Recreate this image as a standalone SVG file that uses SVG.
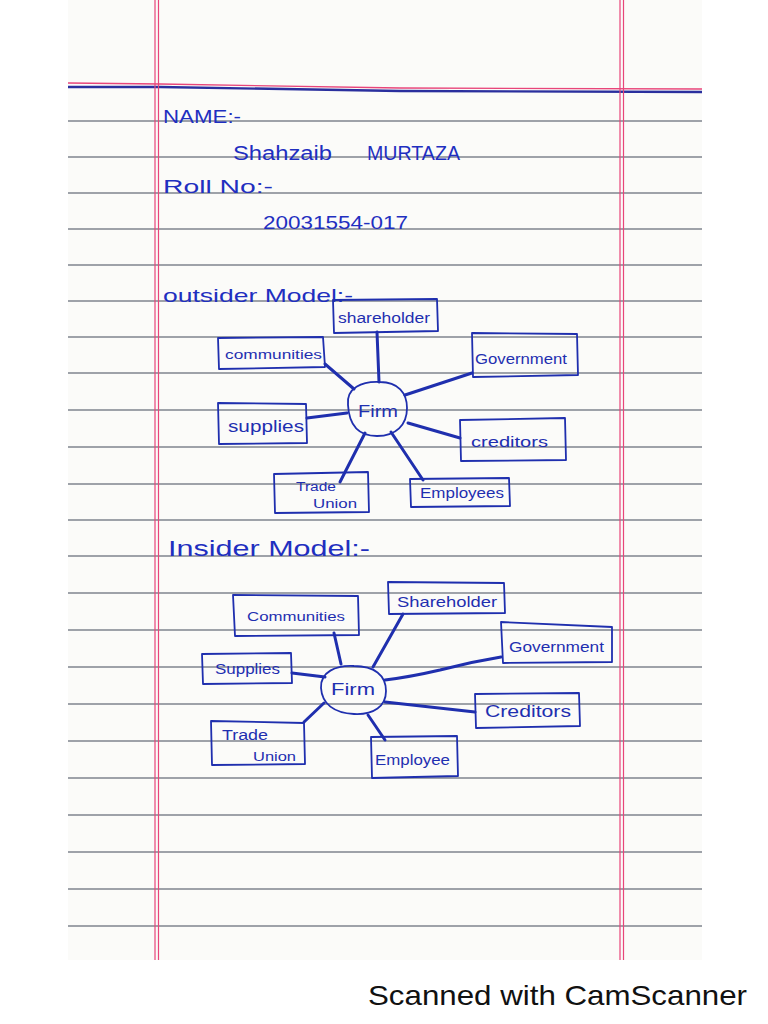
<svg xmlns="http://www.w3.org/2000/svg" width="768" height="1024" viewBox="0 0 768 1024">
<style>
.rule{stroke:#80858e;stroke-width:1.6;fill:none}
.margin{stroke:#e8457a;stroke-width:1.2;fill:none}
.box{fill:none;stroke:#1f2fae;stroke-width:1.8;stroke-linejoin:round}
.firm{fill:none;stroke:#1f2fae;stroke-width:1.8}
.conn{stroke:#1f2fae;stroke-width:3;stroke-linecap:round;fill:none}
.ink{font-family:"Liberation Sans","DejaVu Sans",sans-serif;fill:#1f2fc0}
.lbl{font-family:"Liberation Sans","DejaVu Sans",sans-serif;fill:#1f2fb0}
.cam{font-family:"Liberation Sans",Arial,sans-serif;fill:#111;font-size:28px}
</style>
<rect width="768" height="1024" fill="#ffffff"/>
<rect x="68" y="0" width="634" height="960" fill="#fbfbf9"/>
<g id="ruling">
<path class="rule" d="M68 121H702M68 157H702M68 193H702M68 229H702M68 265H702M68 301H702M68 337H702M68 373H702M68 410H702M68 447H702M68 484H702M68 520H702M68 556H702M68 593H702M68 630H702M68 667H702M68 704H702M68 741H702M68 778H702M68 815H702M68 852H702M68 889H702M68 926H702"/>
<path d="M68 83 L160 84 L400 88 L702 89" stroke="#e8457a" stroke-width="1.3" fill="none"/>
<path d="M68 87 L160 87 L400 91 L702 92" stroke="#2a2f9e" stroke-width="2.4" fill="none"/>
<path class="margin" d="M155 0V960M158.5 0V960M620 0V960M623.5 0V960"/>
</g>
<g id="header">
<text class="ink" x="163" y="123" font-size="18" textLength="78" lengthAdjust="spacingAndGlyphs">NAME:-</text>
<text class="ink" x="233" y="160" font-size="20" textLength="99" lengthAdjust="spacingAndGlyphs">Shahzaib</text>
<text class="ink" x="367" y="160" font-size="20" textLength="93" lengthAdjust="spacingAndGlyphs">MURTAZA</text>
<text class="ink" x="163" y="193" font-size="19" textLength="110" lengthAdjust="spacingAndGlyphs">Roll No:-</text>
<text class="ink" x="263" y="229" font-size="19" textLength="145" lengthAdjust="spacingAndGlyphs">20031554-017</text>
<text class="ink" x="163" y="302" font-size="19" textLength="190" lengthAdjust="spacingAndGlyphs">outsider Model:-</text>
<text class="ink" x="168" y="556" font-size="22" textLength="202" lengthAdjust="spacingAndGlyphs">Insider Model:-</text>
</g>
<g id="outsider-connectors">
<path class="conn" d="M377 332 L379 382"/>
<path class="conn" d="M325 364 L354 389"/>
<path class="conn" d="M472 373 L405 395"/>
<path class="conn" d="M307 418 L347 413"/>
<path class="conn" d="M460 438 L408 423"/>
<path class="conn" d="M340 482 L365 433"/>
<path class="conn" d="M423 480 L391 432"/>
</g>
<g id="o-firm"><path class="firm" d="M348 405 C346 388 362 381 380 382 C398 382 407 393 407 408 C407 425 396 436 377 436 C358 436 349 424 348 405 Z"/><text class="lbl" x="358" y="417" font-size="16" textLength="40" lengthAdjust="spacingAndGlyphs">Firm</text></g>
<g id="o-shareholder"><path class="box" d="M333 300 L437 299 L438 331 L334 333 Z"/><text class="lbl" x="338" y="323" font-size="14" textLength="92" lengthAdjust="spacingAndGlyphs">shareholder</text></g>
<g id="o-communities"><path class="box" d="M218 338 L323 337 L325 367 L219 369 Z"/><text class="lbl" x="225" y="359" font-size="13" textLength="97" lengthAdjust="spacingAndGlyphs">communities</text></g>
<g id="o-government"><path class="box" d="M472 333 L577 334 L578 375 L473 377 Z"/><text class="lbl" x="475" y="364" font-size="14" textLength="92" lengthAdjust="spacingAndGlyphs">Government</text></g>
<g id="o-supplies"><path class="box" d="M218 403 L306 404 L307 443 L219 444 Z"/><text class="lbl" x="228" y="432" font-size="16" textLength="76" lengthAdjust="spacingAndGlyphs">supplies</text></g>
<g id="o-creditors"><path class="box" d="M460 420 L565 418 L566 460 L461 461 Z"/><text class="lbl" x="471" y="447" font-size="15" textLength="77" lengthAdjust="spacingAndGlyphs">creditors</text></g>
<g id="o-tradeunion"><path class="box" d="M274 474 L368 472 L369 512 L275 513 Z"/><text class="lbl" x="296" y="491" font-size="12" textLength="40" lengthAdjust="spacingAndGlyphs">Trade</text><text class="lbl" x="313" y="508" font-size="13" textLength="44" lengthAdjust="spacingAndGlyphs">Union</text></g>
<g id="o-employees"><path class="box" d="M410 479 L509 478 L510 506 L411 507 Z"/><text class="lbl" x="420" y="498" font-size="14" textLength="84" lengthAdjust="spacingAndGlyphs">Employees</text></g>
<g id="insider-connectors">
<path class="conn" d="M334 633 L341 664"/>
<path class="conn" d="M403 614 L373 667"/>
<path class="conn" d="M501 657 Q470 662 440 670 Q410 677 385 680"/>
<path class="conn" d="M292 673 L325 677"/>
<path class="conn" d="M475 712 L385 702"/>
<path class="conn" d="M304 722 L324 703"/>
<path class="conn" d="M385 740 L368 715"/>
</g>
<g id="i-firm"><path class="firm" d="M321 688 C320 672 336 665 354 666 C374 666 386 675 386 691 C386 706 374 715 354 714 C334 713 322 704 321 688 Z"/><text class="lbl" x="331" y="695" font-size="17" textLength="44" lengthAdjust="spacingAndGlyphs">Firm</text></g>
<g id="i-communities"><path class="box" d="M233 595 L358 596 L359 635 L235 636 Z"/><text class="lbl" x="247" y="621" font-size="13" textLength="98" lengthAdjust="spacingAndGlyphs">Communities</text></g>
<g id="i-shareholder"><path class="box" d="M388 582 L504 583 L505 613 L389 614 Z"/><text class="lbl" x="397" y="607" font-size="15" textLength="100" lengthAdjust="spacingAndGlyphs">Shareholder</text></g>
<g id="i-government"><path class="box" d="M501 622 L612 627 L612 662 L503 663 Z"/><text class="lbl" x="509" y="652" font-size="14" textLength="95" lengthAdjust="spacingAndGlyphs">Government</text></g>
<g id="i-supplies"><path class="box" d="M202 654 L291 653 L292 683 L203 684 Z"/><text class="lbl" x="215" y="674" font-size="15" textLength="65" lengthAdjust="spacingAndGlyphs">Supplies</text></g>
<g id="i-creditors"><path class="box" d="M475 694 L579 693 L580 726 L476 728 Z"/><text class="lbl" x="485" y="717" font-size="16" textLength="86" lengthAdjust="spacingAndGlyphs">Creditors</text></g>
<g id="i-tradeunion"><path class="box" d="M211 721 L304 723 L305 764 L212 765 Z"/><text class="lbl" x="222" y="740" font-size="14" textLength="46" lengthAdjust="spacingAndGlyphs">Trade</text><text class="lbl" x="253" y="761" font-size="13" textLength="43" lengthAdjust="spacingAndGlyphs">Union</text></g>
<g id="i-employee"><path class="box" d="M371 737 L457 736 L458 776 L372 778 Z"/><text class="lbl" x="375" y="765" font-size="15" textLength="75" lengthAdjust="spacingAndGlyphs">Employee</text></g>
<text class="cam" x="368" y="1005" textLength="379" lengthAdjust="spacingAndGlyphs">Scanned with CamScanner</text>
</svg>
